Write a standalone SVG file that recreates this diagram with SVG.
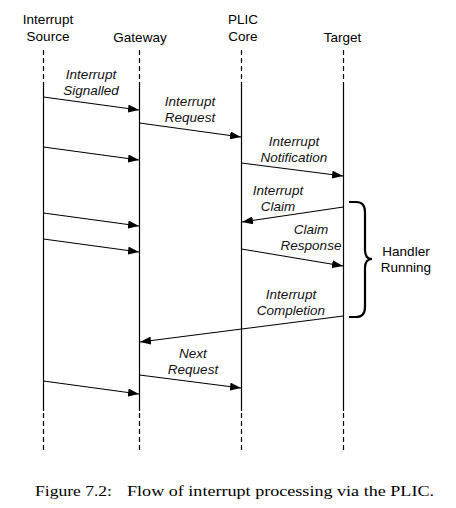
<svg xmlns="http://www.w3.org/2000/svg" width="456" height="508" viewBox="0 0 456 508">
<style>
.hdr{font-family:"Liberation Sans",Arial,sans-serif;font-size:13.5px;fill:#000;text-anchor:middle}
.lbl{font-family:"Liberation Sans",Arial,sans-serif;font-size:13.5px;font-style:italic;fill:#111;text-anchor:middle}
.life{stroke:#000;stroke-width:1.2;fill:none}
.dash{stroke:#000;stroke-width:1.2;fill:none;stroke-dasharray:5 3}
.msg{stroke:#000;stroke-width:1.2;fill:none;marker-end:url(#ah)}
.cap{font-family:"Liberation Serif","Times New Roman",serif;font-size:15px;fill:#000}
</style>
<defs>
<marker id="ah" markerUnits="userSpaceOnUse" markerWidth="12" markerHeight="8" refX="11" refY="4" orient="auto">
<path d="M0,0 L11,4 L0,8 z" fill="#000"/>
</marker>
</defs>
<rect width="456" height="508" fill="#fff"/>
<g id="source">
<text class="hdr" x="48" y="24">Interrupt</text>
<text class="hdr" x="48" y="41">Source</text>
<line class="dash" x1="43.5" y1="50" x2="43.5" y2="87"/>
<line class="life" x1="43.5" y1="87" x2="43.5" y2="411"/>
<line class="dash" x1="43.5" y1="413" x2="43.5" y2="451"/>
</g>
<g id="gateway">
<text class="hdr" x="140" y="42">Gateway</text>
<line class="dash" x1="139.5" y1="50" x2="139.5" y2="87"/>
<line class="life" x1="139.5" y1="87" x2="139.5" y2="411"/>
<line class="dash" x1="139.5" y1="413" x2="139.5" y2="451"/>
</g>
<g id="plic">
<text class="hdr" x="243" y="24">PLIC</text>
<text class="hdr" x="243" y="41">Core</text>
<line class="dash" x1="241.5" y1="50" x2="241.5" y2="87"/>
<line class="life" x1="241.5" y1="87" x2="241.5" y2="411"/>
<line class="dash" x1="241.5" y1="413" x2="241.5" y2="451"/>
</g>
<g id="target">
<text class="hdr" x="342.5" y="42">Target</text>
<line class="dash" x1="343.5" y1="50" x2="343.5" y2="87"/>
<line class="life" x1="343.5" y1="87" x2="343.5" y2="411"/>
<line class="dash" x1="343.5" y1="413" x2="343.5" y2="451"/>
</g>
<g id="handler">
<path d="M349,202 L356,202 Q365,202 365,212 L365,250 Q365,259 372,259 Q365,259 365,268 L365,307 Q365,317 356,317 L349,317" fill="none" stroke="#000" stroke-width="2.2"/>
<text class="hdr" x="406" y="256">Handler</text>
<text class="hdr" x="406" y="272">Running</text>
</g>
<g id="connectors">
<line class="msg" x1="43.5" y1="97" x2="139" y2="110"/>
<line class="msg" x1="139.5" y1="123" x2="241" y2="137"/>
<line class="msg" x1="43.5" y1="147" x2="139" y2="160"/>
<line class="msg" x1="241.5" y1="163" x2="343" y2="176"/>
<line class="msg" x1="343.5" y1="207" x2="242" y2="222"/>
<line class="msg" x1="43.5" y1="213" x2="139" y2="226"/>
<line class="msg" x1="43.5" y1="239" x2="139" y2="252"/>
<line class="msg" x1="241.5" y1="249" x2="343" y2="266"/>
<line class="msg" x1="343.5" y1="316" x2="140" y2="342"/>
<line class="msg" x1="139.5" y1="375" x2="241" y2="388"/>
<line class="msg" x1="43.5" y1="381" x2="139" y2="394"/>
</g>
<g id="labels">
<text class="lbl" x="91" y="79">Interrupt</text>
<text class="lbl" x="91" y="95">Signalled</text>
<text class="lbl" x="190" y="106">Interrupt</text>
<text class="lbl" x="190" y="122">Request</text>
<text class="lbl" x="294" y="146">Interrupt</text>
<text class="lbl" x="294" y="162">Notification</text>
<text class="lbl" x="278" y="195">Interrupt</text>
<text class="lbl" x="278" y="211">Claim</text>
<text class="lbl" x="311" y="234">Claim</text>
<text class="lbl" x="311" y="250">Response</text>
<text class="lbl" x="291" y="299">Interrupt</text>
<text class="lbl" x="291" y="315">Completion</text>
<text class="lbl" x="193" y="358">Next</text>
<text class="lbl" x="193" y="374">Request</text>
</g>
<text class="cap" x="35" y="496" textLength="77" lengthAdjust="spacingAndGlyphs">Figure 7.2:</text>
<text class="cap" x="127" y="496" textLength="307" lengthAdjust="spacingAndGlyphs">Flow of interrupt processing via the PLIC.</text>
</svg>
